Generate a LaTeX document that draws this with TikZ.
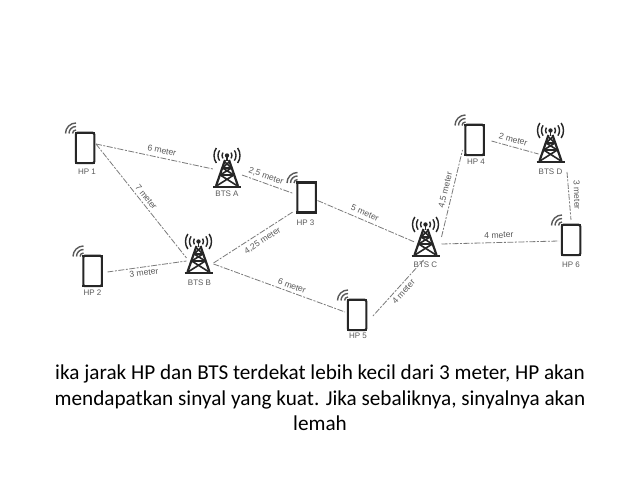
\documentclass[tikz,border=0pt]{standalone}
\usepackage{fontspec}
\setmainfont{Liberation Sans}
\newfontfamily\captionfont{Carlito}
\usetikzlibrary{calc}
\definecolor{ink}{HTML}{262626}
\definecolor{linkgray}{HTML}{7A7A7A}
\definecolor{textgray}{HTML}{5A5A5A}
\tikzset{
  phonebox/.style={draw=ink,line width=2pt,rounded corners=1.5pt,minimum width=18.5pt,minimum height=30.5pt,inner sep=0pt,fill=white},
  towerbox/.style={minimum width=28pt,minimum height=40pt,inner sep=0pt},
  devlabel/.style={font=\fontsize{8}{9}\selectfont,text=textgray,inner sep=0pt},
  dist/.style={font=\fontsize{8.6}{10}\selectfont,text=textgray,inner sep=0pt},
  link/.style={draw=linkgray,line width=0.8pt,dash pattern=on 6pt off 1.5pt on 2pt off 1.5pt},
  wave/.style={draw=ink,line width=1.4pt},
  wifi/.style={draw=textgray,line width=1.4pt},
  capt/.style={font=\captionfont\fontsize{21.2}{25.5}\selectfont,text=black,align=center,inner sep=0pt}
}
% name, x, y, label, label dx, label dy
\newcommand{\phonedev}[6]{%
  \node[phonebox] (#1) at (#2,#3) {};
  \fill[ink] ($(#1.north west)+(0,0)$) rectangle ($(#1.north east)+(0,2.5)$);
  \fill[ink] ($(#1.south west)+(0,-2.5)$) rectangle ($(#1.south east)+(0,0)$);
  \draw[wifi] ($(#1)+(-12.5,-14.5)$) arc[start angle=180,end angle=270,radius=3.5];
  \draw[wifi] ($(#1)+(-16,-14.5)$) arc[start angle=180,end angle=270,radius=7];
  \draw[wifi] ($(#1)+(-19.5,-14.5)$) arc[start angle=180,end angle=270,radius=10.5];
  \node[devlabel] (#1l) at ($(#1)+(#5,#6)$) {#4};
}
\newcommand{\towerdev}[6]{%
  \node[towerbox] (#1) at (#2,#3) {};
  \begin{scope}[shift={(#1)}]
    \draw[ink,line width=2.2pt,line join=round] (-2,-9) -- (-11,17) (2,-9) -- (11,17);
    \draw[ink,line width=2.8pt] (-14,18) -- (14,18);
    \draw[ink,line width=1.5pt] (0,-13) -- (0,-8);
    \fill[ink] (0,-13.5) circle (2.2);
    \draw[ink,line width=1.6pt] (-4.4,-1) -- (4.4,-1) (-6.8,6) -- (6.8,6)
      (-4.4,-1) -- (6.8,6) (4.4,-1) -- (-6.8,6)
      (-6.8,6) -- (9.8,16.5) (6.8,6) -- (-9.8,16.5)
      (-2,-7) -- (4.4,-1) (2,-7) -- (-4.4,-1);
    \foreach \r in {5,9,13}{
      \draw[wave] ($(0,-13.5)+(-35:\r)$) arc[start angle=-35,end angle=35,radius=\r];
      \draw[wave] ($(0,-13.5)+(145:\r)$) arc[start angle=145,end angle=215,radius=\r];
    }
  \end{scope}
  \node[devlabel] (#1l) at ($(#1)+(#5,#6)$) {#4};
}
\begin{document}
\begin{tikzpicture}[x=1pt,y=-1pt]
\useasboundingbox (0,0) rectangle (638,478);
\fill[white] (0,0) rectangle (638,478);

\phonedev{hpa}{85}{148}{HP 1}{2}{24}
\phonedev{hpb}{92.5}{271}{HP 2}{0}{22}
\phonedev{hpc}{306.5}{197.5}{HP 3}{-1}{25}
\phonedev{hpd}{474.5}{140}{HP 4}{1.5}{22}
\phonedev{hpe}{357}{315}{HP 5}{1}{21}
\phonedev{hpf}{571}{240}{HP 6}{0}{25}

\towerdev{btsa}{227}{169}{BTS A}{0}{25}
\towerdev{btsb}{198.5}{255}{BTS B}{1}{28}
\towerdev{btsc}{425.5}{238}{BTS C}{0}{27}
\towerdev{btsd}{550.5}{144}{BTS D}{0}{28}

\draw[link] ($(hpa)+(11,-4)$) -- node[dist,pos=.55,above=4pt,sloped]{6 meter} ($(btsa)+(-14,0)$);
\draw[link] ($(hpa)+(11,-4)$) -- node[dist,pos=.5,above=3pt,sloped]{7 meter} ($(btsb)+(-12,3)$);
\draw[link] ($(hpb)+(15,1)$) -- node[dist,pos=.45,below=2.5pt,sloped]{3 meter} ($(btsb)+(-12,6)$);
\draw[link] ($(btsa)+(15,6)$) -- node[dist,pos=.42,above=3pt,sloped]{2,5 meter} ($(hpc)+(-13,-4)$);
\draw[link] ($(btsb)+(15,8)$) -- node[dist,pos=.56,below=4pt,sloped]{4,25 meter} ($(hpc)+(-13,14)$);
\draw[link] ($(btsb)+(15,9)$) -- node[dist,pos=.58,above=3pt,sloped]{6 meter} ($(hpe)+(-12,-3)$);
\draw[link] ($(hpc)+(11,3)$) -- node[dist,pos=.46,above=4pt,sloped]{5 meter} ($(btsc)+(-11,4)$);
\draw[link] ($(btsc)+(-2,22)$) -- node[dist,pos=.48,below=3pt,sloped]{4 meter} ($(hpe)+(15,2)$);
\draw[link] ($(btsc)+(16,-1)$) -- node[dist,pos=.52,above=3pt,sloped]{4,5 meter} ($(hpd)+(-12,10)$);
\draw[link] ($(btsc)+(16,6)$) -- node[dist,pos=.49,above=4pt,sloped]{4 meter} ($(hpf)+(-12,1)$);
\draw[link] ($(hpd)+(17,1)$) -- node[dist,pos=.42,above=4pt,sloped]{2 meter} ($(btsd)+(-12,10)$);
\draw[link] ($(btsd)+(16.5,28)$) -- ($(hpf)+(0,-20)$);
\node[dist,rotate=-88] (dd) at (577,195) {3 meter};

\node[capt] (caption) at (320,398) {ika jarak HP dan BTS terdekat lebih kecil dari 3 meter, HP akan\\mendapatkan sinyal yang kuat. Jika sebaliknya, sinyalnya akan\\lemah};
\end{tikzpicture}
\end{document}
